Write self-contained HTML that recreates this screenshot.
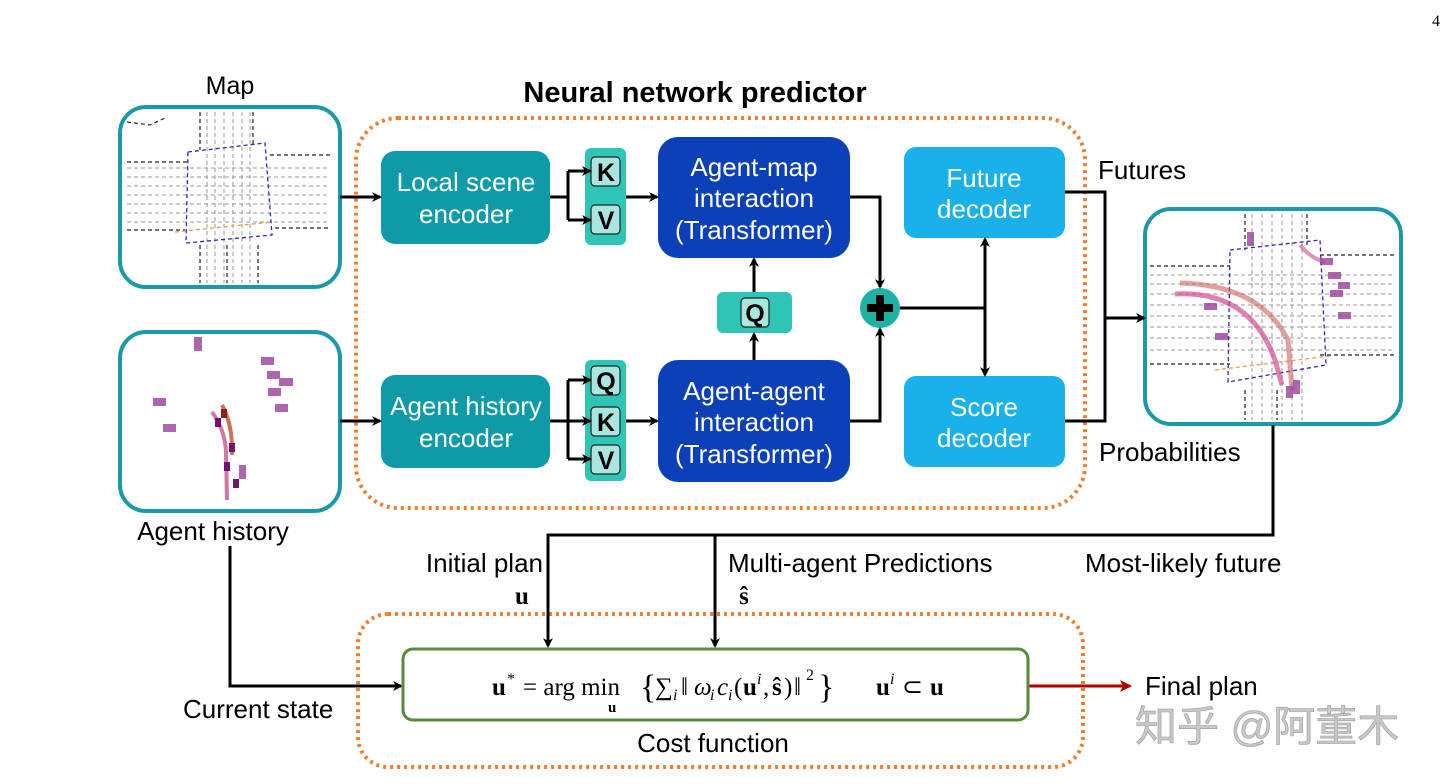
<!DOCTYPE html>
<html><head><meta charset="utf-8"><style>
html,body{margin:0;padding:0;background:#fff;}
svg{display:block;}
text{font-family:"Liberation Sans",sans-serif;}
text.s{font-family:"Liberation Serif",serif;}
</style></head><body>
<svg width="1440" height="784" viewBox="0 0 1440 784" xmlns="http://www.w3.org/2000/svg">
<defs>
<marker id="a" markerWidth="10" markerHeight="10" refX="8" refY="5" orient="auto" markerUnits="userSpaceOnUse"><path d="M0,0 L10,5 L0,10 L3,5 Z" fill="#000"/></marker>
<marker id="r" markerWidth="12" markerHeight="12" refX="10" refY="6" orient="auto" markerUnits="userSpaceOnUse"><path d="M0,0 L12,6 L0,12 L3,6 Z" fill="#b00000"/></marker>
</defs>

<text class="s" x="1432" y="26" font-size="16">4</text>

<text x="230" y="94" font-size="25" text-anchor="middle">Map</text>
<text x="695" y="102" font-size="29" font-weight="bold" text-anchor="middle">Neural network predictor</text>
<text x="213" y="540" font-size="26" text-anchor="middle">Agent history</text>

<rect x="356" y="118" width="729" height="390" rx="42" fill="none" stroke="#ef7f2f" stroke-width="4" stroke-dasharray="3 4"/>
<rect x="358" y="614" width="725" height="153" rx="30" fill="none" stroke="#ef7f2f" stroke-width="4" stroke-dasharray="3 4"/>

<g>
<rect x="120" y="107" width="220" height="180" rx="26" fill="#fff" stroke="#1a9aa8" stroke-width="4"/>
<g stroke="#999" stroke-width="1" stroke-dasharray="4 3" fill="none">
<line x1="127" y1="168" x2="330" y2="168"/><line x1="127" y1="177" x2="330" y2="177"/><line x1="127" y1="186" x2="330" y2="186"/><line x1="127" y1="195" x2="330" y2="195"/><line x1="127" y1="204" x2="330" y2="204"/><line x1="127" y1="213" x2="330" y2="213"/><line x1="127" y1="222" x2="330" y2="222"/>
<line x1="207" y1="112" x2="207" y2="283"/><line x1="215" y1="112" x2="215" y2="283"/><line x1="224" y1="112" x2="224" y2="283"/><line x1="233" y1="112" x2="233" y2="283"/><line x1="242" y1="112" x2="242" y2="283"/><line x1="250" y1="112" x2="250" y2="283"/>
</g>
<g stroke="#222" stroke-width="1.2" stroke-dasharray="4 3" fill="none">
<line x1="127" y1="162" x2="190" y2="162"/><line x1="270" y1="155" x2="330" y2="155"/><line x1="127" y1="230" x2="185" y2="230"/><line x1="275" y1="228" x2="330" y2="228"/>
<line x1="200" y1="112" x2="200" y2="150"/><line x1="253" y1="112" x2="253" y2="145"/><line x1="200" y1="245" x2="200" y2="283"/><line x1="227" y1="245" x2="227" y2="283"/><line x1="258" y1="245" x2="258" y2="283"/>
<path d="M127 122 L150 125 L165 118"/>
</g>
<polygon points="188,152 265,143 272,235 186,243" fill="none" stroke="#2a2ab0" stroke-width="1.3" stroke-dasharray="4 3"/>
<line x1="175" y1="232" x2="272" y2="222" stroke="#e3a050" stroke-width="1.3" stroke-dasharray="4 3"/>
</g>

<g>
<rect x="120" y="332" width="220" height="179" rx="26" fill="#fff" stroke="#1a9aa8" stroke-width="4"/>
<g fill="#a04aa0" opacity="0.85">
<rect x="194" y="337" width="8" height="14"/><rect x="261" y="357" width="13" height="8"/><rect x="267" y="371" width="13" height="8"/><rect x="279" y="378" width="14" height="8"/><rect x="268" y="388" width="13" height="8"/><rect x="275" y="404" width="13" height="8"/><rect x="153" y="398" width="13" height="8"/><rect x="163" y="424" width="13" height="8"/><rect x="239" y="465" width="7" height="14"/>
</g>
<path d="M212 412 Q225 430 226 452 L227 500" stroke="#c03a80" stroke-width="4" fill="none" opacity="0.7"/>
<path d="M222 405 Q233 425 232 455" stroke="#c0502a" stroke-width="4" fill="none" opacity="0.8"/>
<g fill="#701470"><rect x="215" y="418" width="6" height="9"/><rect x="229" y="443" width="6" height="9"/><rect x="224" y="462" width="6" height="9"/><rect x="233" y="479" width="6" height="9"/><rect x="221" y="409" width="6" height="9" fill="#8a2020"/></g>
</g>

<g>
<rect x="1145" y="209" width="256" height="215" rx="26" fill="#fff" stroke="#1a9aa8" stroke-width="4"/>
<g stroke="#999" stroke-width="1" stroke-dasharray="4 3" fill="none">
<line x1="1150" y1="275" x2="1395" y2="275"/><line x1="1150" y1="284" x2="1395" y2="284"/><line x1="1150" y1="294" x2="1395" y2="294"/><line x1="1150" y1="305" x2="1395" y2="305"/><line x1="1150" y1="316" x2="1395" y2="316"/><line x1="1150" y1="327" x2="1395" y2="327"/><line x1="1150" y1="338" x2="1395" y2="338"/><line x1="1150" y1="350" x2="1395" y2="350"/>
<line x1="1252" y1="214" x2="1252" y2="420"/><line x1="1262" y1="214" x2="1262" y2="420"/><line x1="1272" y1="214" x2="1272" y2="420"/><line x1="1282" y1="214" x2="1282" y2="420"/><line x1="1292" y1="214" x2="1292" y2="420"/><line x1="1302" y1="214" x2="1302" y2="420"/>
</g>
<g stroke="#222" stroke-width="1.2" stroke-dasharray="4 3" fill="none">
<line x1="1150" y1="266" x2="1230" y2="266"/><line x1="1320" y1="255" x2="1397" y2="255"/><line x1="1150" y1="364" x2="1230" y2="364"/><line x1="1320" y1="355" x2="1397" y2="355"/>
<line x1="1245" y1="214" x2="1245" y2="250"/><line x1="1307" y1="214" x2="1307" y2="245"/><line x1="1245" y1="390" x2="1245" y2="420"/><line x1="1277" y1="390" x2="1277" y2="420"/>
</g>
<polygon points="1230,250 1320,240 1326,365 1228,382" fill="none" stroke="#2a2ab0" stroke-width="1.3" stroke-dasharray="4 3"/>
<line x1="1215" y1="370" x2="1330" y2="356" stroke="#e3a050" stroke-width="1.3" stroke-dasharray="4 3"/>
<path d="M1175 294 Q1250 290 1275 360 L1282 385" stroke="#d04a90" stroke-width="5" fill="none" opacity="0.7"/>
<path d="M1180 283 Q1260 285 1288 340 L1292 390" stroke="#d06060" stroke-width="5" fill="none" opacity="0.6"/>
<path d="M1300 245 Q1310 258 1325 262" stroke="#d04a90" stroke-width="4" fill="none" opacity="0.6"/>
<g fill="#a04aa0" opacity="0.85">
<rect x="1247" y="232" width="7" height="14"/><rect x="1320" y="258" width="13" height="7"/><rect x="1328" y="272" width="13" height="7"/><rect x="1338" y="282" width="12" height="7"/><rect x="1330" y="290" width="13" height="7"/><rect x="1338" y="312" width="13" height="7"/><rect x="1204" y="303" width="13" height="7"/><rect x="1215" y="333" width="13" height="7"/><rect x="1293" y="380" width="7" height="14"/><rect x="1286" y="386" width="7" height="12"/>
</g>
</g>

<rect x="381" y="151" width="169" height="93" rx="14" fill="#0e9aa7"/>
<text x="466" y="191" font-size="26" fill="#fff" text-anchor="middle">Local scene</text>
<text x="466" y="223" font-size="26" fill="#fff" text-anchor="middle">encoder</text>
<rect x="381" y="375" width="169" height="93" rx="14" fill="#0e9aa7"/>
<text x="466" y="415" font-size="26" fill="#fff" text-anchor="middle">Agent history</text>
<text x="466" y="447" font-size="26" fill="#fff" text-anchor="middle">encoder</text>

<rect x="585" y="148" width="41" height="97" rx="6" fill="#2ec4b6"/>
<rect x="585" y="360" width="41" height="121" rx="6" fill="#2ec4b6"/>
<g stroke="#222" stroke-width="1.2" fill="#a8e6e0">
<rect x="591" y="157" width="29" height="29" rx="4"/><rect x="591" y="205" width="29" height="29" rx="4"/>
<rect x="591" y="366" width="29" height="29" rx="4"/><rect x="591" y="407" width="29" height="29" rx="4"/><rect x="591" y="445" width="29" height="29" rx="4"/>
</g>
<g font-size="25" font-weight="bold" text-anchor="middle">
<text x="606" y="181">K</text><text x="606" y="229">V</text>
<text x="606" y="390">Q</text><text x="606" y="431">K</text><text x="606" y="469">V</text>
</g>

<rect x="658" y="137" width="192" height="121" rx="20" fill="#0c40b8"/>
<text x="754" y="176" font-size="26" fill="#fff" text-anchor="middle">Agent-map</text>
<text x="754" y="207" font-size="26" fill="#fff" text-anchor="middle">interaction</text>
<text x="754" y="239" font-size="26" fill="#fff" text-anchor="middle">(Transformer)</text>
<rect x="658" y="360" width="192" height="122" rx="20" fill="#0c40b8"/>
<text x="754" y="400" font-size="26" fill="#fff" text-anchor="middle">Agent-agent</text>
<text x="754" y="431" font-size="26" fill="#fff" text-anchor="middle">interaction</text>
<text x="754" y="463" font-size="26" fill="#fff" text-anchor="middle">(Transformer)</text>

<rect x="717" y="292" width="75" height="41" rx="6" fill="#2ec4b6"/>
<rect x="741" y="298" width="28" height="29" rx="4" fill="#a8e6e0" stroke="#222" stroke-width="1.2"/>
<text x="755" y="322" font-size="25" font-weight="bold" text-anchor="middle">Q</text>

<circle cx="880" cy="308" r="20" fill="#1bb3a6"/>
<rect x="867" y="304" width="26" height="8" fill="#000"/><rect x="876" y="295" width="8" height="26" fill="#000"/>

<rect x="904" y="147" width="161" height="91" rx="12" fill="#1ab0ea"/>
<text x="984" y="187" font-size="26" fill="#fff" text-anchor="middle">Future</text>
<text x="984" y="218" font-size="26" fill="#fff" text-anchor="middle">decoder</text>
<rect x="904" y="376" width="161" height="91" rx="12" fill="#1ab0ea"/>
<text x="984" y="416" font-size="26" fill="#fff" text-anchor="middle">Score</text>
<text x="984" y="447" font-size="26" fill="#fff" text-anchor="middle">decoder</text>

<text x="1098" y="179" font-size="26">Futures</text>
<text x="1099" y="461" font-size="26">Probabilities</text>

<g stroke="#000" stroke-width="3" fill="none">
<line x1="340" y1="197" x2="380" y2="197" marker-end="url(#a)"/>
<line x1="340" y1="421" x2="380" y2="421" marker-end="url(#a)"/>
<polyline points="550,197 568,197"/><polyline points="568,171 568,220"/>
<line x1="568" y1="171" x2="590" y2="171" marker-end="url(#a)"/><line x1="568" y1="220" x2="590" y2="220" marker-end="url(#a)"/>
<line x1="626" y1="197" x2="657" y2="197" marker-end="url(#a)"/>
<polyline points="550,421 568,421"/><polyline points="568,380 568,459"/>
<line x1="568" y1="380" x2="590" y2="380" marker-end="url(#a)"/><line x1="568" y1="421" x2="590" y2="421" marker-end="url(#a)"/><line x1="568" y1="459" x2="590" y2="459" marker-end="url(#a)"/>
<line x1="626" y1="421" x2="657" y2="421" marker-end="url(#a)"/>
<line x1="754" y1="360" x2="754" y2="334" marker-end="url(#a)"/>
<line x1="754" y1="292" x2="754" y2="259" marker-end="url(#a)"/>
<polyline points="850,197 880,197 880,287" marker-end="url(#a)"/>
<polyline points="850,421 880,421 880,329" marker-end="url(#a)"/>
<line x1="900" y1="308" x2="985" y2="308"/>
<line x1="985" y1="308" x2="985" y2="239" marker-end="url(#a)"/>
<line x1="985" y1="308" x2="985" y2="375" marker-end="url(#a)"/>
<polyline points="1065,192 1105,192 1105,421 1065,421"/>
<line x1="1105" y1="318" x2="1144" y2="318" marker-end="url(#a)"/>
<polyline points="1273,425 1273,535 548,535 548,646" marker-end="url(#a)"/>
<line x1="715" y1="535" x2="715" y2="646" marker-end="url(#a)"/>
<polyline points="230,546 230,686 401,686" marker-end="url(#a)"/>
</g>
<line x1="1028" y1="686" x2="1130" y2="686" stroke="#b00000" stroke-width="3" marker-end="url(#r)"/>

<text x="543" y="572" font-size="26" text-anchor="end">Initial plan</text>
<text class="s" x="522" y="604" font-size="25" font-weight="bold" text-anchor="middle">u</text>
<text x="728" y="572" font-size="26">Multi-agent Predictions</text>
<text class="s" x="744" y="604" font-size="25" font-weight="bold" text-anchor="middle">ŝ</text>
<text x="1085" y="572" font-size="26">Most-likely future</text>
<text x="183" y="718" font-size="26">Current state</text>
<text x="1145" y="695" font-size="26">Final plan</text>
<text x="713" y="752" font-size="26" text-anchor="middle">Cost function</text>

<rect x="403" y="649" width="625" height="71" rx="10" fill="#fff" stroke="#5a8a3a" stroke-width="3"/>
<g font-size="25">
<text class="s" x="492" y="695" font-weight="bold">u</text><text class="s" x="507" y="684" font-size="16">*</text>
<text class="s" x="523" y="695">= arg min</text>
<text class="s" x="608" y="712" font-size="15" font-weight="bold">u</text>
<text class="s" x="640" y="698" font-size="34">{</text>
<text class="s" x="655" y="695">∑</text><text class="s" x="673" y="700" font-size="16" font-style="italic">i</text>
<text class="s" x="681" y="695">‖</text>
<text class="s" x="694" y="695" font-style="italic">ω</text><text class="s" x="710" y="700" font-size="16" font-style="italic">i</text>
<text class="s" x="717" y="695" font-style="italic">c</text><text class="s" x="728" y="700" font-size="16" font-style="italic">i</text>
<text class="s" x="734" y="695">(</text><text class="s" x="743" y="695" font-weight="bold">u</text><text class="s" x="757" y="684" font-size="16" font-style="italic">i</text>
<text class="s" x="763" y="695">,</text><text class="s" x="772" y="695" font-weight="bold">ŝ</text><text class="s" x="784" y="695">)</text>
<text class="s" x="794" y="695">‖</text><text class="s" x="806" y="680" font-size="16">2</text>
<text class="s" x="818" y="698" font-size="34">}</text>
<text class="s" x="876" y="695" font-weight="bold">u</text><text class="s" x="890" y="684" font-size="16" font-style="italic">i</text>
<text class="s" x="902" y="695">⊂</text><text class="s" x="930" y="695" font-weight="bold">u</text>
</g>

<text x="1135" y="741" font-size="42" fill="#c8c8c8" stroke="#9a9a9a" stroke-width="0.6" style="font-family:'Liberation Sans','Noto Sans CJK SC',sans-serif">知乎 @阿董木</text>
</svg>
</body></html>
